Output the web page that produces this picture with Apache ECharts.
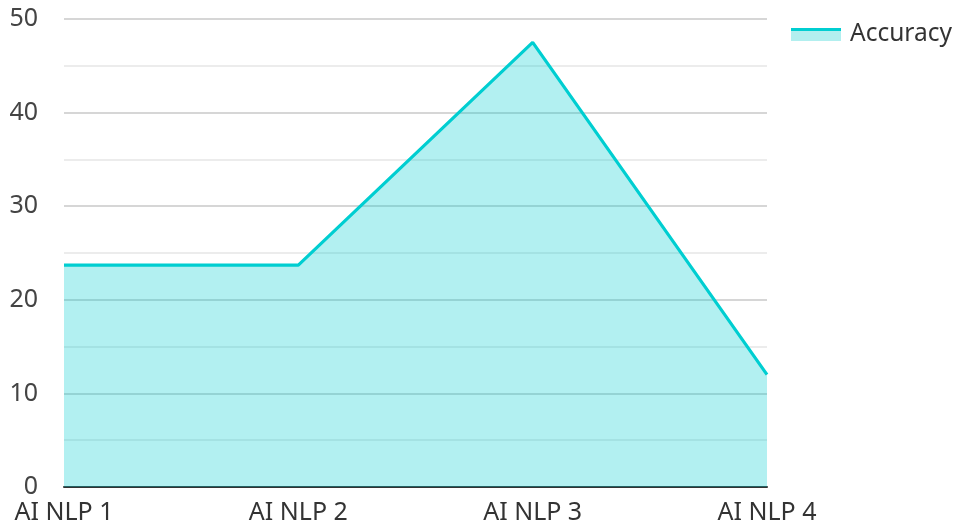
<!DOCTYPE html>
<html><head><meta charset="utf-8">
<script src="https://cdn.jsdelivr.net/npm/echarts@6/dist/echarts.min.js"></script>
<style>html,body{margin:0;padding:0;background:#fff}#c{width:956px;height:529px}</style>
</head><body><div id="c"></div>
<script>
const categories = ["AI NLP 1", "AI NLP 2", "AI NLP 3", "AI NLP 4"];
const accuracy = [23.7, 23.7, 47.5, 12.0];
const seriesName = "Accuracy";
const yMin = 0, yMax = 50, yInterval = 10;

const chart = echarts.init(document.getElementById('c'), null, {renderer: 'canvas'});
const font = "'Noto Sans', sans-serif";
const legendIconColor = new echarts.graphic.LinearGradient(0, 0, 0, 1, [
  {offset: 0, color: '#00CED1'}, {offset: 0.26, color: '#00CED1'},
  {offset: 0.26, color: '#b2efef'}, {offset: 1, color: '#b2efef'}
]);
chart.setOption({
  animation: false,
  textStyle: {fontFamily: font},
  grid: {left: 64, right: 189, top: 19, bottom: 42},
  legend: {
    data: [{name: seriesName, icon: 'rect', itemStyle: {color: legendIconColor, borderWidth: 0}}],
    left: 791, top: 22, padding: 0, itemWidth: 50, itemHeight: 13,
    textStyle: {fontSize: 24.5, color: '#333', fontFamily: font, padding: [0, 0, 0, 4]}
  },
  xAxis: {
    type: 'category', data: categories, boundaryGap: false,
    axisLine: {lineStyle: {color: '#333', width: 2}},
    axisTick: {show: false},
    axisLabel: {fontSize: 25, color: '#333', margin: 13, fontFamily: font}
  },
  yAxis: {
    type: 'value', min: yMin, max: yMax, interval: yInterval,
    axisLine: {show: false}, axisTick: {show: false},
    axisLabel: {fontSize: 25, color: '#444', margin: 26, fontFamily: font},
    splitLine: {lineStyle: {color: '#c8c8c8', width: 1.5}},
    minorTick: {show: false, splitNumber: 2},
    minorSplitLine: {show: true, lineStyle: {color: '#e6e6e6', width: 1.5}}
  },
  series: [{
    name: seriesName, type: 'line', data: accuracy,
    symbol: 'none', lineStyle: {color: '#00CED1', width: 3.2},
    itemStyle: {color: '#00CED1'},
    areaStyle: {color: '#00CED1', opacity: 0.3}
  }]
});
</script></body></html>
